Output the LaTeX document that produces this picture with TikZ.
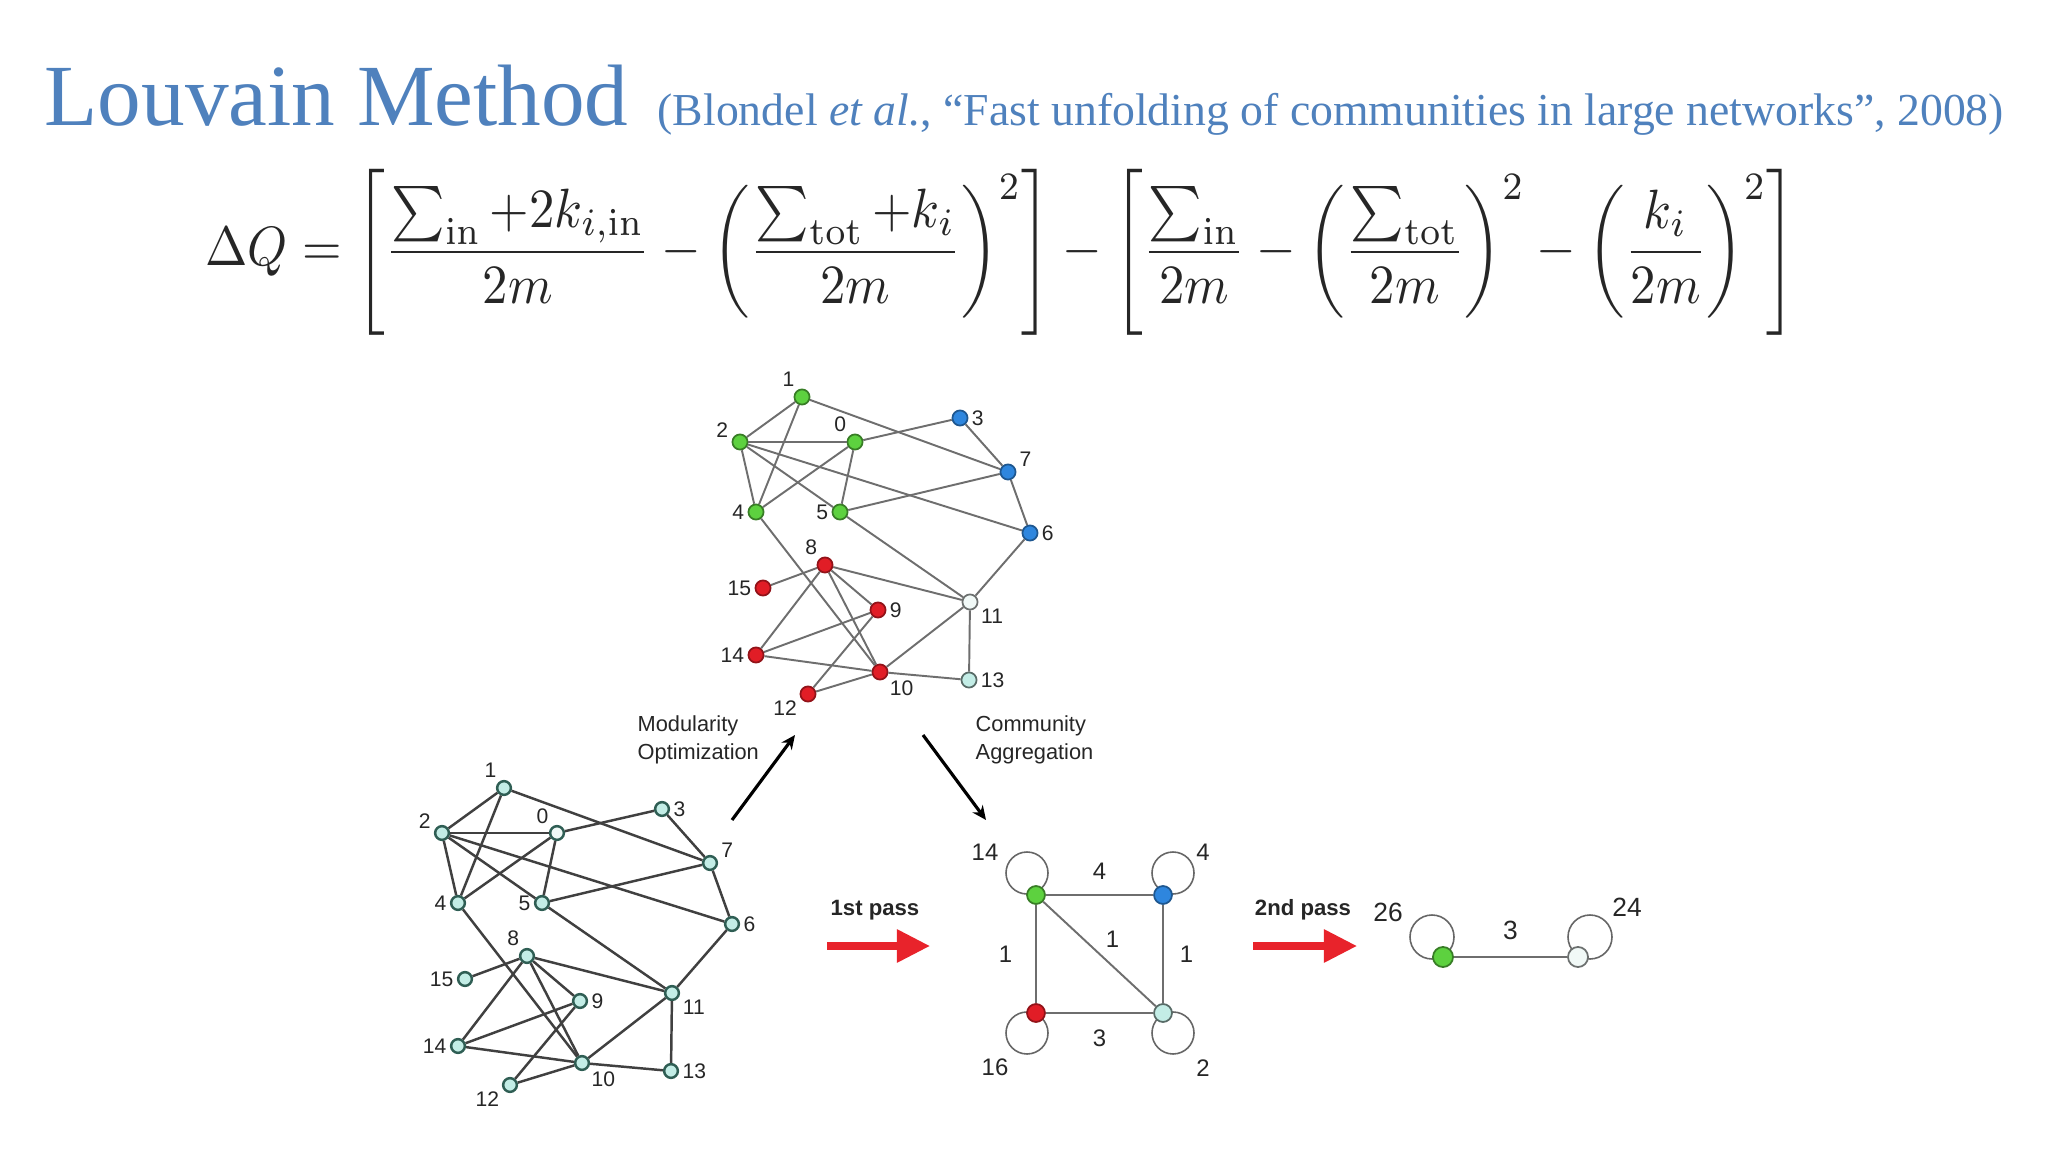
\documentclass[tikz,border=0pt]{standalone}
\usepackage[no-math]{fontspec}
\setmainfont{Liberation Serif}
\setsansfont{Liberation Sans}
\usepackage{graphicx}
\usetikzlibrary{arrows.meta,backgrounds}
\definecolor{titleblue}{HTML}{4F81BD}
\definecolor{cgrn}{HTML}{5DD13F}
\definecolor{cblu}{HTML}{2E86DE}
\definecolor{cred}{HTML}{E11D26}
\definecolor{ccyn}{HTML}{C3EDE6}
\definecolor{cwht}{HTML}{F1F9F7}
\definecolor{edgegray}{HTML}{6E6E6E}
\definecolor{tealdark}{HTML}{2F5E54}
\definecolor{passred}{HTML}{E8232B}
% the network: name/x/y/label angle/community/start colour
\newcommand{\netnodes}{%
  0/855/442/130/gnode/wnode, 1/802/397/120/gnode/cnode, 2/740/442/170/gnode/cnode,%
  3/960/418/0/bnode/cnode, 4/756/512/180/gnode/cnode, 5/840/512/180/gnode/cnode,%
  6/1030/533/0/bnode/cnode, 7/1008/472/15/bnode/cnode, 8/825/565/122/rnode/cnode,%
  9/878/610/0/rnode/cnode, 10/880/672/-40/rnode/cnode, 11/970/602/-25/wnode/cnode,%
  12/808/694/-155/rnode/cnode, 13/969/680/0/cnode/cnode, 14/756/655/180/rnode/cnode,%
  15/763/588/180/rnode/cnode}
\newcommand{\netedges}{1/2,1/4,1/7,2/0,2/4,2/5,2/6,0/3,0/4,0/5,3/7,7/5,7/6,6/11,%
  4/10,5/11,8/15,8/14,8/9,8/10,8/11,9/14,9/12,14/10,10/12,10/11,10/13,11/13}
\newcommand{\lbsize}[1]{\sffamily\fontsize{#1}{#1}\selectfont}

\begin{document}
\begin{tikzpicture}[
      x=0.01cm, y=-0.01cm, %one unit is one pixel of the slide
      vtx/.style={circle, minimum size=4.3pt, inner sep=0pt, line width=0.5pt},
      gnode/.style={fill=cgrn, draw=cgrn!60!black},
      bnode/.style={fill=cblu, draw=cblu!65!black},
      rnode/.style={fill=cred, draw=cred!65!black},
      cnode/.style={fill=ccyn, draw=ccyn!45!black},
      wnode/.style={fill=cwht, draw=cwht!45!black},
      edge/.style={draw=edgegray, line width=0.55pt},
      lbl/.style={font=\lbsize{6}, text=black!85, inner sep=0.8pt},
      wlbl/.style={font=\lbsize{6.8}, text=black!85, inner sep=0pt},
      loopline/.style={draw=black!60, line width=0.45pt},
      flow/.style={-{Stealth[length=4pt,width=3.6pt]}, line width=0.9pt},
      pass/.style={-{Triangle[length=9.4pt,width=9pt]}, line width=2pt, draw=passred},
      txt/.style={font=\sffamily\fontsize{6.2}{7.8}\selectfont, text=black!85, align=left, inner sep=0pt}
    ]
    \path[use as bounding box] (0,0) rectangle (2048,1152);
    \begin{scope}[on background layer]
      \fill[white] (0,0) rectangle (2048,1152);
    \end{scope}
    %Title and reference
    \node[anchor=base west, inner sep=0pt, text=titleblue,
      font=\fontsize{24.8}{28}\selectfont] (title) at (44,126) {Louvain Method};
    \node[anchor=base west, inner sep=0pt, text=titleblue,
      font=\fontsize{13}{15}\selectfont] (ref) at (657,126)
      {(Blondel \textit{et al.}, “Fast unfolding of communities in large networks”, 2008)};
    % modularity gain
    \node[text=black!85, inner sep=0pt] (dq) at (1001,252) {\scalebox{1}[1.09]{\resizebox{15.9cm}{!}{$\displaystyle
      \Delta Q=\left[\frac{\sum_{\mathrm{in}}+2k_{i,\mathrm{in}}}{2m}
      -\left(\frac{\sum_{\mathrm{tot}}+k_i}{2m}\right)^2\right]
      -\left[\frac{\sum_{\mathrm{in}}}{2m}-\left(\frac{\sum_{\mathrm{tot}}}{2m}\right)^2
      -\left(\frac{k_i}{2m}\right)^2\right]$}}};
    % Network after modularity optimization
    \foreach \nm/\x/\y/\ang/\col/\ini in \netnodes
      \node[vtx, \col, label={[lbl]\ang:\nm}] (t\nm) at (\x,\y) {};
    \foreach \u/\v in \netedges
      \draw[edge] (t\u) -- (t\v);
    % Starting network
    \begin{scope}[shift={(-298,391)}]
      \foreach \nm/\x/\y/\ang/\col/\ini in \netnodes
        \node[vtx, \ini, draw=tealdark, line width=0.7pt, minimum size=3.9pt,
          label={[lbl]\ang:\nm}] (b\nm) at (\x,\y) {};
      \foreach \u/\v in \netedges
        \draw[edge, draw=black!75, line width=0.7pt] (b\u) -- (b\v);
    \end{scope}
    % the two steps
    \coordinate (mo1) at (732,820);
    \coordinate (mo2) at (795,735);
    \coordinate (ca1) at (923,735);
    \coordinate (ca2) at (986,820);
    \draw[flow] (mo1) -- (mo2);
    \draw[flow] (ca1) -- (ca2);
    \node[txt, anchor=west] (mod) at (637,740) {Modularity\\Optimization};
    \node[txt, anchor=west] (agg) at (975,740) {Community\\Aggregation};
    % first pass
    \node[font=\sffamily\bfseries\fontsize{6.3}{7}\selectfont, text=black!85, anchor=base,
      inner sep=0pt] (p1) at (875,915) {1st pass};
    \coordinate (p1a) at (827,946);
    \coordinate (p1b) at (930,946);
    \draw[pass] (p1a) -- (p1b);
    \node[vtx, gnode, minimum size=5.1pt] (g) at (1036,895) {};
    \node[vtx, bnode, minimum size=5.1pt] (u) at (1163,895) {};
    \node[vtx, rnode, minimum size=5.1pt] (r) at (1036,1013) {};
    \node[vtx, cnode, minimum size=5.1pt] (c) at (1163,1013) {};
    \draw[edge] (g) -- node[wlbl, above=4pt] (w1) {4} (u);
    \draw[edge] (g) -- node[wlbl, left=6.5pt] (w2) {1} (r);
    \draw[edge] (g) -- node[wlbl, above right=1.5pt] (w3) {1} (c);
    \draw[edge] (u) -- node[wlbl, right=4.5pt] (w4) {1} (c);
    \draw[edge] (r) -- node[wlbl, below=4.5pt] (w5) {3} (c);
    \begin{scope}[on background layer]
      \draw[loopline] ([shift={(-9,-22)}]g.center) circle (21);
      \draw[loopline] ([shift={(10,-22)}]u.center) circle (21);
      \draw[loopline] ([shift={(-9,20)}]r.center) circle (21);
      \draw[loopline] ([shift={(10,20)}]c.center) circle (21);
    \end{scope}
    \node[wlbl] (l14) at ([shift={(-51,-43)}]g) {14};
    \node[wlbl] (l4) at ([shift={(40,-43)}]u) {4};
    \node[wlbl] (l16) at ([shift={(-41,54)}]r) {16};
    \node[wlbl] (l2) at ([shift={(40,55)}]c) {2};
    % second pass
    \node[font=\sffamily\bfseries\fontsize{6.3}{7}\selectfont, text=black!85, anchor=base,
      inner sep=0pt] (p2) at (1303,915) {2nd pass};
    \coordinate (p2a) at (1253,946);
    \coordinate (p2b) at (1357,946);
    \draw[pass] (p2a) -- (p2b);
    \node[vtx, gnode, minimum size=5.7pt] (s1) at (1443,957) {};
    \node[vtx, wnode, minimum size=5.7pt] (s2) at (1578,957) {};
    \draw[edge] (s1) -- node[wlbl, font=\lbsize{7.5}, above=4.5pt] (w6) {3} (s2);
    \begin{scope}[on background layer]
      \draw[loopline] ([shift={(-11,-20)}]s1.center) circle (22);
      \draw[loopline] ([shift={(12,-20)}]s2.center) circle (22);
    \end{scope}
    \node[wlbl, font=\lbsize{7.5}] (l26) at ([shift={(-55,-45)}]s1) {26};
    \node[wlbl, font=\lbsize{7.5}] (l24) at ([shift={(49,-50)}]s2) {24};
\end{tikzpicture}
\end{document}
